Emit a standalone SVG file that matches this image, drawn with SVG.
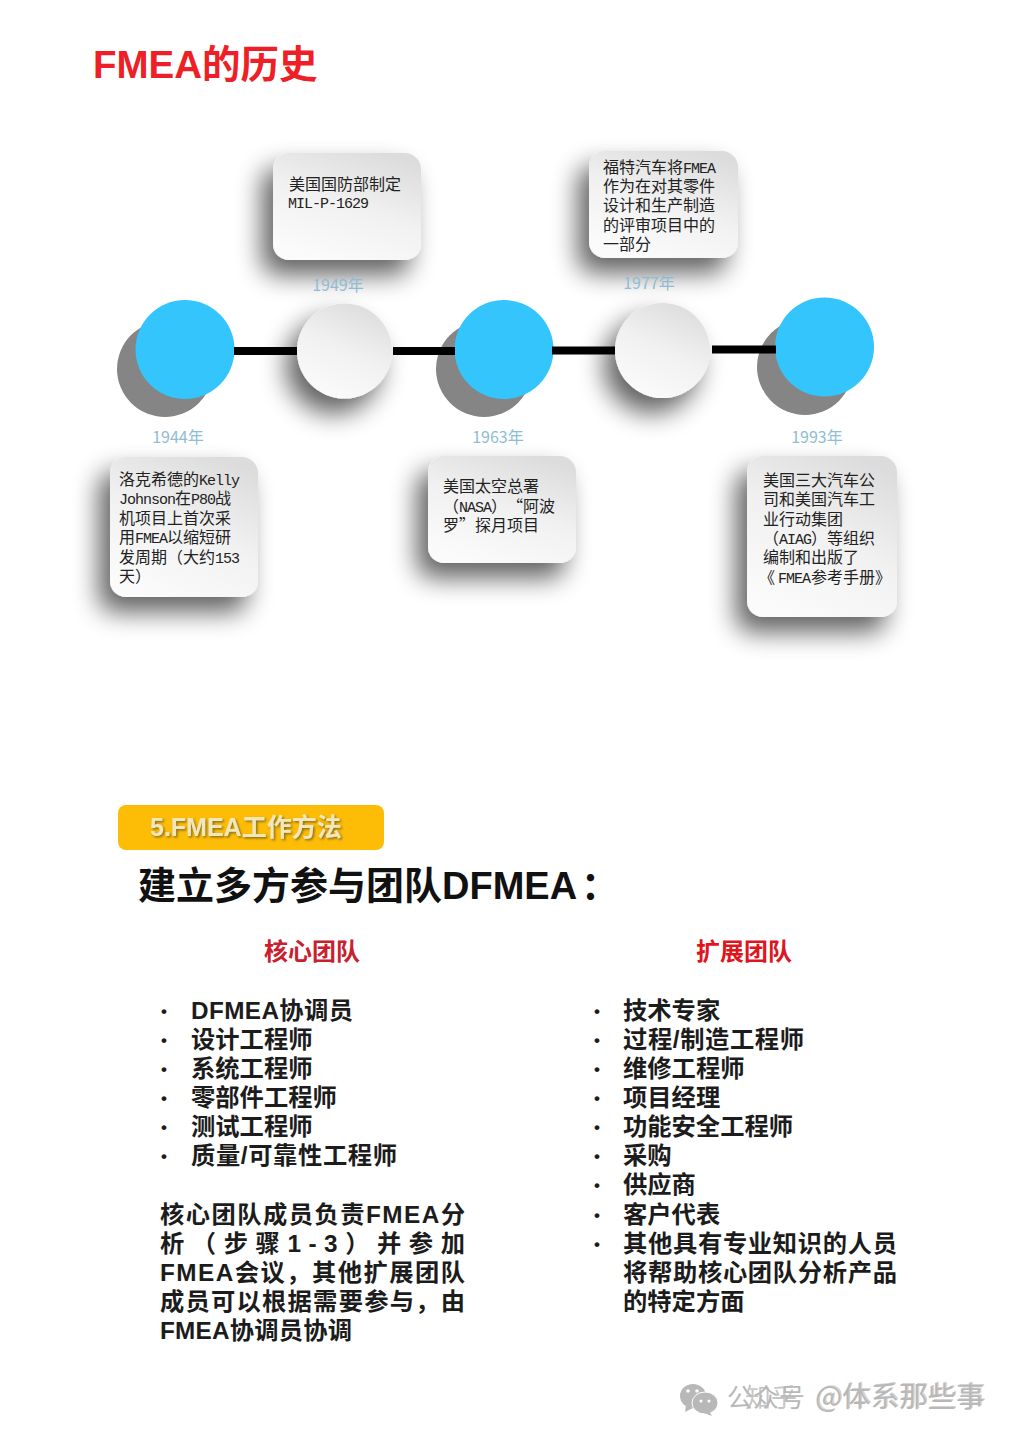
<svg xmlns="http://www.w3.org/2000/svg" width="1011" height="1439" viewBox="0 0 1011 1439">
<style>
text{font-family:"Liberation Sans","Noto Sans CJK SC",sans-serif;text-spacing-trim:space-all}
.card{fill:url(#paper);filter:url(#soft)}
.disc{fill:url(#paper);filter:url(#soft)}
.blue{fill:#33c5fb}
.grey{fill:#858585}
.yr{font-family:"Noto Sans CJK SC",sans-serif;font-size:16px;fill:#8fbcd4;text-anchor:middle}
.t{font-family:"Noto Sans CJK SC",sans-serif;font-size:16px;fill:#222}
.l{font-family:"Liberation Mono","Noto Sans CJK SC",monospace;font-size:15px;letter-spacing:-1px}
.big{font-weight:700;fill:#111}
.li{font-size:24.300px;font-weight:700;fill:#1c1c1c}
.b{font-size:17px}
.wm{font-family:"Noto Sans CJK SC",sans-serif;fill:#b8b8b8}
</style>
<defs>
<linearGradient id="paper" x1=".3" y1="1" x2=".75" y2="0">
<stop offset="0" stop-color="#fbfbfb"/><stop offset=".5" stop-color="#f1f1f1"/><stop offset="1" stop-color="#dcdcdc"/>
</linearGradient>
<filter id="soft" x="-50%" y="-50%" width="190%" height="200%">
<feGaussianBlur in="SourceAlpha" stdDeviation="13"/>
<feOffset dx="-11" dy="15"/>
<feComponentTransfer><feFuncA type="linear" slope=".62"/></feComponentTransfer>
<feMerge><feMergeNode/><feMergeNode in="SourceGraphic"/></feMerge>
</filter>
<filter id="ts" x="-10%" y="-20%" width="120%" height="140%">
<feDropShadow dx="1.500" dy="1.500" stdDeviation="1" flood-color="#6b5a20" flood-opacity=".8"/>
</filter>
</defs>
<rect width="1011" height="1439" fill="#fff"/>
<g id="title"><text x="93" y="78" font-size="38.500" font-weight="700" fill="#ee1f26">FMEA的历史</text></g>
<g id="node-1944">
<circle class="grey" cx="165" cy="369" r="48"/><circle class="blue" cx="185" cy="349.500" r="49.500"/>
<text class="yr" x="178" y="443">1944年</text>
<rect class="card" x="110" y="457" width="148" height="140" rx="16"/>
<text class="t"><tspan x="119" y="485">洛克希德的<tspan class="l" letter-spacing="0">Kelly</tspan></tspan><tspan x="119" y="504"><tspan class="l">Johnson</tspan>在<tspan class="l">P80</tspan>战</tspan><tspan x="119" y="524">机项目上首次采</tspan><tspan x="119" y="543">用<tspan class="l">FMEA</tspan>以缩短研</tspan><tspan x="119" y="563">发周期（大约<tspan class="l">153</tspan></tspan><tspan x="119" y="582">天）</tspan></text>
</g>
<g id="node-1949">
<rect class="card" x="273" y="153" width="148" height="107" rx="16"/>
<text class="t"><tspan x="289" y="190">美国国防部制定</tspan><tspan class="l" x="288" y="208">MIL-P-1629</tspan></text>
<text class="yr" x="338" y="291">1949年</text>
<circle class="disc" cx="344.500" cy="351" r="47.500"/>
</g>
<g id="node-1963">
<circle class="grey" cx="484" cy="369" r="48"/><circle class="blue" cx="504" cy="349.500" r="49.500"/>
<text class="yr" x="498" y="443">1963年</text>
<rect class="card" x="428" y="456" width="148" height="107" rx="16"/>
<text class="t"><tspan x="443" y="492">美国太空总署</tspan><tspan x="443" y="512">（<tspan class="l">NASA</tspan>）“阿波</tspan><tspan x="443" y="531">罗”探月项目</tspan></text>
</g>
<g id="node-1977">
<rect class="card" x="589" y="151" width="149" height="107" rx="16"/>
<text class="t"><tspan x="603" y="173">福特汽车将<tspan class="l">FMEA</tspan></tspan><tspan x="603" y="192">作为在对其零件</tspan><tspan x="603" y="211">设计和生产制造</tspan><tspan x="603" y="231">的评审项目中的</tspan><tspan x="603" y="250">一部分</tspan></text>
<text class="yr" x="649" y="289">1977年</text>
<circle class="disc" cx="662.500" cy="350.500" r="47.500"/>
</g>
<g id="node-1993">
<circle class="grey" cx="805" cy="367" r="48"/><circle class="blue" cx="824.500" cy="347" r="49.500"/>
<text class="yr" x="817" y="443">1993年</text>
<rect class="card" x="747" y="456" width="150" height="161" rx="16"/>
<text class="t"><tspan x="763" y="486">美国三大汽车公</tspan><tspan x="763" y="505">司和美国汽车工</tspan><tspan x="763" y="525">业行动集团</tspan><tspan x="763" y="544">（<tspan class="l">AIAG</tspan>）等组织</tspan><tspan x="763" y="563">编制和出版了</tspan><tspan x="759" y="583">《</tspan><tspan x="778" y="583"><tspan class="l">FMEA</tspan></tspan><tspan x="811" y="583">参考手册》</tspan></text>
</g>
<g id="connectors" stroke="#000" stroke-width="8" fill="none">
<path d="M234 351H297"/><path d="M393 351H455"/><path d="M552 350.500H615"/><path d="M712 349.500H776"/>
</g>
<g id="section-label">
<rect x="118" y="805" width="266" height="45" rx="8" fill="#fdbd06"/>
<text x="150" y="836" font-size="25" font-weight="700" fill="#f3e6ba" filter="url(#ts)">5.FMEA工作方法</text>
</g>
<g id="heading"><text class="big" x="138" y="899" font-size="38">建立多方参与团队DFMEA<tspan x="581">：</tspan></text></g>
<g id="core-team">
<text x="312" y="960" font-size="24" font-weight="700" fill="#c9202e" text-anchor="middle">核心团队</text>
<g class="li">
<text class="b" x="161" y="1017">•</text><text class="b" x="161" y="1046">•</text><text class="b" x="161" y="1075">•</text><text class="b" x="161" y="1104">•</text><text class="b" x="161" y="1133">•</text><text class="b" x="161" y="1162">•</text>
<text x="191" y="1019" textLength="162" lengthAdjust="spacing">DFMEA协调员</text>
<text x="191" y="1048">设计工程师</text>
<text x="191" y="1077">系统工程师</text>
<text x="191" y="1106">零部件工程师</text>
<text x="191" y="1135">测试工程师</text>
<text x="191" y="1164" textLength="206" lengthAdjust="spacing">质量/可靠性工程师</text>
<text x="160" y="1223" textLength="305" lengthAdjust="spacing">核心团队成员负责FMEA分</text>
<text x="160" y="1252" textLength="305" lengthAdjust="spacing">析（步骤1-3）并参加</text>
<text x="160" y="1281" textLength="305" lengthAdjust="spacing">FMEA会议，其他扩展团队</text>
<text x="160" y="1310" textLength="305" lengthAdjust="spacing">成员可以根据需要参与，由</text>
<text x="160" y="1339" textLength="192" lengthAdjust="spacing">FMEA协调员协调</text>
</g>
</g>
<g id="extended-team">
<text x="744" y="960" font-size="24" font-weight="700" fill="#e0141c" text-anchor="middle">扩展团队</text>
<g class="li">
<text class="b" x="594" y="1017">•</text><text class="b" x="594" y="1046">•</text><text class="b" x="594" y="1075">•</text><text class="b" x="594" y="1104">•</text><text class="b" x="594" y="1133">•</text><text class="b" x="594" y="1162">•</text><text class="b" x="594" y="1191">•</text><text class="b" x="594" y="1221">•</text><text class="b" x="594" y="1250">•</text>
<text x="623" y="1019">技术专家</text>
<text x="623" y="1048" textLength="181" lengthAdjust="spacing">过程/制造工程师</text>
<text x="623" y="1077">维修工程师</text>
<text x="623" y="1106">项目经理</text>
<text x="623" y="1135" textLength="170" lengthAdjust="spacing">功能安全工程师</text>
<text x="623" y="1164">采购</text>
<text x="623" y="1193">供应商</text>
<text x="623" y="1223">客户代表</text>
<text x="623" y="1252" textLength="274" lengthAdjust="spacing">其他具有专业知识的人员</text>
<text x="623" y="1281" textLength="274" lengthAdjust="spacing">将帮助核心团队分析产品</text>
<text x="623" y="1310">的特定方面</text>
</g>
</g>
<g id="watermark">
<ellipse cx="693" cy="1396" rx="13" ry="12" fill="#b8b8b8"/><path d="M686 1405l-1 7 8-4z" fill="#b8b8b8"/>
<circle cx="688" cy="1391" r="1.800" fill="#fff"/><circle cx="697" cy="1391" r="1.800" fill="#fff"/>
<ellipse cx="705" cy="1403" rx="13" ry="11" fill="#b8b8b8" stroke="#fff"/><path d="M709 1411l3 5-8-3z" fill="#b8b8b8"/>
<circle cx="701" cy="1401" r="1.600" fill="#fff"/><circle cx="709" cy="1401" r="1.600" fill="#fff"/>
<text class="wm" x="727" y="1407" font-size="26">公众号</text>
<text class="wm" x="745" y="1407" font-size="26" opacity=".8">知乎</text>
<text class="wm" x="815" y="1407" font-size="28.500">@体系那些事</text>
<text class="wm" x="816.500" y="1406" font-size="28.500" opacity=".6">@体系那些事</text>
</g>
</svg>
